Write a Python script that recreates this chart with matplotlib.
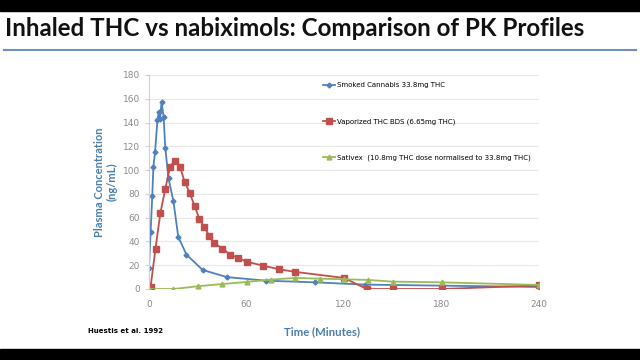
import matplotlib
matplotlib.use("Agg")
import matplotlib.pyplot as plt

# Huestis et al. 1992 - plasma THC (ng/mL) vs time (minutes)
t_smoked = [0, 1, 2, 2.7, 3.7, 5.2, 6, 6.8, 7.7, 9, 10, 12, 15, 18, 23, 33, 48, 72, 102, 133, 240]
c_smoked = [18, 48, 78, 103, 115, 142, 149, 143, 157, 145, 119, 93, 74, 44, 29, 16, 10, 7, 5.6, 3.7, 1.7]

t_vapor = [1, 4, 7, 10, 13, 16, 19, 22, 25, 28, 31, 34, 37, 40, 45, 50, 55, 60, 70, 80, 90, 120, 134, 150, 180, 240]
c_vapor = [2, 34, 64, 84, 103, 108, 103, 90, 81, 70, 59, 52, 45, 39, 34, 29, 26, 23, 19.7, 16.6, 14.4, 9.3, 0, 0, 0, 3]

t_sativex = [0, 15, 30, 45, 60, 75, 90, 105, 120, 135, 150, 180, 240]
c_sativex = [0, 0, 2.3, 4.2, 5.9, 7.9, 9.3, 8.7, 8.2, 7.6, 6.2, 5.6, 3.4]

labels = ["Smoked Cannabis 33.8mg THC",
          "Vaporized THC BDS (6.65mg THC)",
          "Sativex  (10.8mg THC dose normalised to 33.8mg THC)"]

azul = "#4F81BD"
rojo = "#C0504D"
verde = "#9BBB59"
eje = "#4A7EA8"

fig = plt.figure(figsize=(6.4, 3.6), dpi=100)
fig.patch.set_facecolor("white")

# franjas negras arriba y abajo
fig.add_artist(plt.Rectangle((0, 1 - 11 / 360), 1, 11 / 360, transform=fig.transFigure, color="black"))
fig.add_artist(plt.Rectangle((0, 0), 1, 11 / 360, transform=fig.transFigure, color="black"))

fig.text(5 / 640, 1 - 28 / 360, "Inhaled THC vs nabiximols: Comparison of PK Profiles",
         fontsize=17.4, fontweight="bold", family="Lato", va="center", ha="left", color="#111111")
fig.add_artist(plt.Line2D([4 / 640, 636 / 640], [1 - 50 / 360, 1 - 50 / 360],
                          transform=fig.transFigure, color="#6E8FC0", lw=1.5))

ax = fig.add_axes([149 / 640, 1 - 289 / 360, 390 / 640, 214 / 360])
ax.plot(t_smoked, c_smoked, color=azul, marker="D", markersize=2.5, lw=1.3, label=labels[0])
ax.plot(t_vapor, c_vapor, color=rojo, marker="s", markersize=4.2, lw=1.3, label=labels[1])
ax.plot(t_sativex, c_sativex, color=verde, marker="^", markersize=3.5, lw=1.3, label=labels[2])

ax.set_xlim(0, 240)
ax.set_ylim(0, 180)
ax.set_xticks([0, 60, 120, 180, 240])
ax.set_yticks(range(0, 181, 20))
ax.grid(axis="y", color="#E8E8E8", lw=0.8)
ax.set_axisbelow(True)
for lado in ["top", "right", "bottom"]:
    ax.spines[lado].set_visible(False)
ax.spines["left"].set_color("#D0D0D0")
ax.tick_params(axis="both", colors="#D0D0D0", labelcolor="#8A8A8A", labelsize=6.5, length=3)
ax.tick_params(axis="x", length=0, pad=8)
ax.set_xlabel("Time (Minutes)", fontsize=8.2, fontweight="bold", color=eje, family="Lato")
ax.xaxis.set_label_coords(0.444, -0.175)
ax.set_ylabel("Plasma Concentration\n(ng/mL)", fontsize=8, fontweight="bold", color=eje, family="Lato")
ax.yaxis.set_label_coords(-0.08, 0.5)

ax.legend(loc="upper left", bbox_to_anchor=(0.43, 0.995), frameon=False, fontsize=5,
          handlelength=1.8, labelspacing=4.3, handletextpad=0.2)

fig.text(88 / 640, 1 - 331 / 360, "Huestis et al. 1992", fontsize=5, fontweight="bold",
         color="black", va="center")

fig.savefig("out.png", dpi=100)
